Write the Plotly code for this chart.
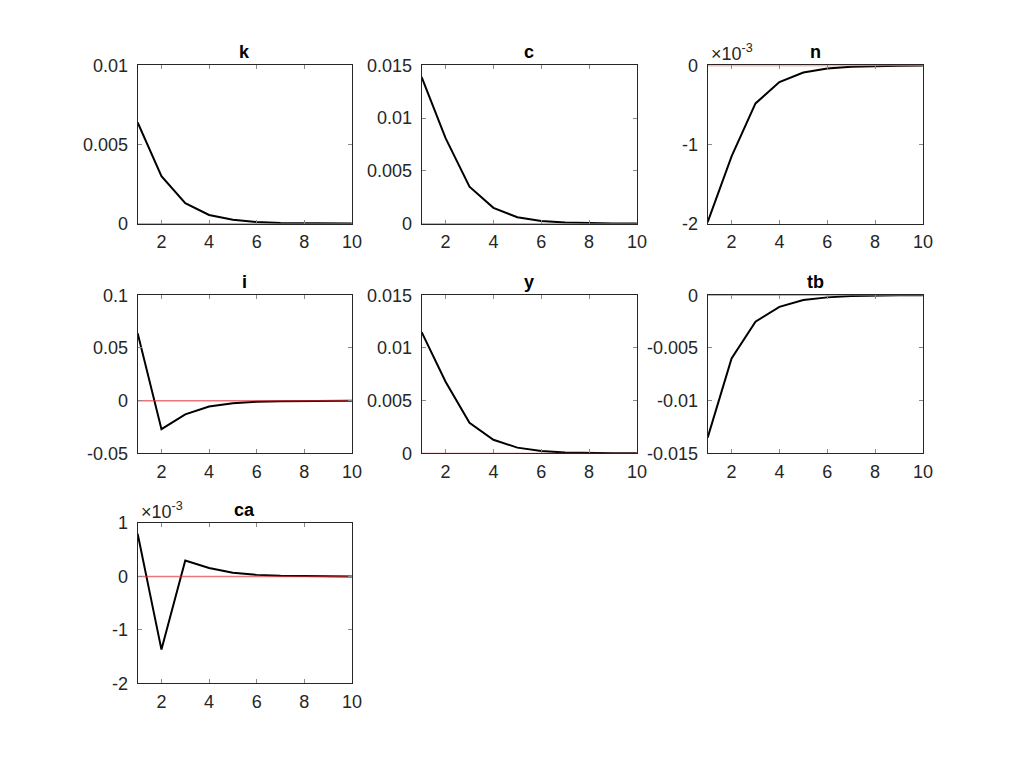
import plotly.graph_objects as go

# impulse responses, periods 1..10
periods = list(range(1, 11))

k = [0.0064, 0.0030, 0.0013, 0.00055, 0.00024, 0.0001, 0.00004, 0.00002, 0.00001, 0.000004]
c = [0.0139, 0.0081, 0.0035, 0.0015, 0.0006, 0.00026, 0.00011, 0.00005, 0.00002, 0.00001]
n = [-0.00198, -0.00115, -0.00048, -0.00021, -0.00009, -0.00004, -0.000017, -0.000007, -0.000003, -0.000001]
i = [0.064, -0.027, -0.013, -0.0055, -0.0024, -0.001, -0.0004, -0.0002, -0.0001, -0.00004]
y = [0.0115, 0.0068, 0.0029, 0.0013, 0.00055, 0.00024, 0.0001, 0.00004, 0.00002, 0.00001]
tb = [-0.0135, -0.0060, -0.0025, -0.0011, -0.00045, -0.0002, -0.00008, -0.00003, -0.00001, -0.000004]
ca = [0.0008, -0.00137, 0.0003, 0.00016, 0.00007, 0.00003, 0.000013, 0.000005, 0.000002, 0.000001]

names = ["k", "c", "n", "i", "y", "tb", "ca"]
series = [k, c, n, i, y, tb, ca]
yranges = [[0, 0.01], [0, 0.015], [-0.002, 0], [-0.05, 0.1], [0, 0.015], [-0.015, 0], [-0.002, 0.001]]
ytickvals = [
    [0, 0.005, 0.01],
    [0, 0.005, 0.01, 0.015],
    [-0.002, -0.001, 0],
    [-0.05, 0, 0.05, 0.1],
    [0, 0.005, 0.01, 0.015],
    [-0.015, -0.01, -0.005, 0],
    [-0.002, -0.001, 0, 0.001],
]
yticktext = [
    ["0", "0.005", "0.01"],
    ["0", "0.005", "0.01", "0.015"],
    ["-2", "-1", "0"],
    ["-0.05", "0", "0.05", "0.1"],
    ["0", "0.005", "0.01", "0.015"],
    ["-0.015", "-0.01", "-0.005", "0"],
    ["-2", "-1", "0", "1"],
]
scaled = [False, False, True, False, False, False, True]

W, H = 1024, 768
cols_px = [(137, 352), (422, 638), (709, 925)]
rows_px = [(64, 223), (295, 454), (524, 685)]


# page offset / scale seen in the browser shot
def fx(px):
    return (px - 6.9) / 0.9937 / W


def fy(px):
    return 1 - (px - 16.3) / 0.979 / H


fig = go.Figure()
font = "Liberation Sans, Arial, sans-serif"
axcol = "#262626"
annotations = []

for idx, (name, vals) in enumerate(zip(names, series)):
    r, cc = divmod(idx, 3)
    x0, x1 = cols_px[cc]
    y0, y1 = rows_px[r]
    xa = "xaxis" if idx == 0 else f"xaxis{idx + 1}"
    ya = "yaxis" if idx == 0 else f"yaxis{idx + 1}"
    xr = "x" if idx == 0 else f"x{idx + 1}"
    yr = "y" if idx == 0 else f"y{idx + 1}"

    fig.add_trace(go.Scatter(x=periods, y=vals, mode="lines", xaxis=xr, yaxis=yr,
                             line=dict(color="black", width=2), showlegend=False))
    fig.add_trace(go.Scatter(x=[periods[0], periods[-1]], y=[0, 0], mode="lines", xaxis=xr, yaxis=yr,
                             line=dict(color="#e03030", width=1.5), opacity=0.65, showlegend=False))

    common = dict(showline=True, linecolor=axcol, linewidth=1, mirror="ticks", ticks="inside",
                  ticklen=4, tickcolor="#8a8a8a", showgrid=False, zeroline=False,
                  tickfont=dict(family=font, size=18, color=axcol))
    fig.layout[xa] = dict(domain=[fx(x0), fx(x1)], anchor=yr, range=[1, 10],
                          tickvals=[2, 4, 6, 8, 10], ticklabelstandoff=2, **common)
    fig.layout[ya] = dict(domain=[fy(y1), fy(y0)], anchor=xr, range=yranges[idx],
                          tickvals=ytickvals[idx], ticktext=yticktext[idx], ticklabelstandoff=5, **common)

    annotations.append(dict(text=f"<b>{name}</b>", x=(fx(x0) + fx(x1)) / 2, y=fy(y0 - 1),
                            xref="paper", yref="paper", xanchor="center", yanchor="bottom",
                            showarrow=False, font=dict(family=font, size=18, color="black")))
    if scaled[idx]:
        annotations.append(dict(text="×10<sup>-3</sup>", x=fx(x0 + 1), y=fy(y0 + 1),
                                xref="paper", yref="paper", xanchor="left", yanchor="bottom",
                                showarrow=False, font=dict(family=font, size=18, color=axcol)))

fig.update_layout(width=W, height=H, margin=dict(l=0, r=0, t=0, b=0),
                  plot_bgcolor="white", paper_bgcolor="white", annotations=annotations)

fig.write_html("out.html")
